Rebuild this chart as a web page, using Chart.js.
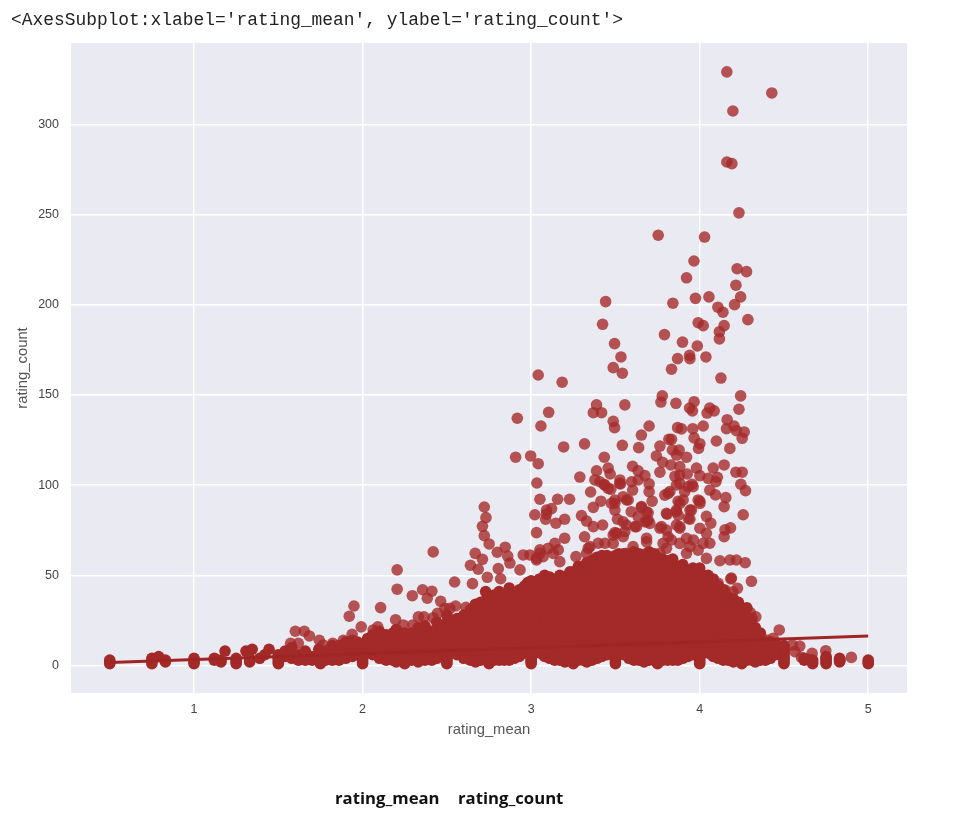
<!DOCTYPE html>
<html>
<head>
<meta charset="utf-8">
<title>rating_mean vs rating_count</title>
<script src="https://cdn.jsdelivr.net/npm/chart.js@4/dist/chart.umd.js"></script>
<style>
  body { margin: 0; background: #fff; width: 960px; height: 817px; overflow: hidden; position: relative; }
  #grafico { position: absolute; left: 0; top: 0; filter: blur(0.4px); }
  #repr { position: absolute; left: 11px; top: 10px; font: 17.9px "Liberation Mono", monospace; color: #222; white-space: pre; }
  .colonna { position: absolute; top: 786px; font: bold 16.7px "Open Sans", sans-serif; color: #111; }
</style>
</head>
<body>
<canvas id="grafico" width="960" height="817"></canvas>
<div id="repr">&lt;AxesSubplot:xlabel='rating_mean', ylabel='rating_count'&gt;</div>
<div class="colonna" style="left:335px">rating_mean</div>
<div class="colonna" style="left:458px">rating_count</div>

<script>
const xTicks = [1, 2, 3, 4, 5];
const yTicks = [0, 50, 100, 150, 200, 250, 300];

// retta di regressione
const fitMeans = [0.5, 5];
const fitCounts = [1.6, 16.3];

// punti isolati, parte alta
const topMeans = [4.161, 4.428, 4.197, 4.161, 4.191, 4.233, 3.754, 4.029, 3.966, 3.922, 4.222, 4.278, 4.215, 4.243, 4.055, 3.975, 3.841, 3.442, 4.207, 4.108, 4.138, 4.286, 3.424, 3.991, 4.021, 4.145, 4.117, 4.117, 3.791, 3.898, 3.986, 3.495,
  3.533, 3.487, 3.541, 3.869, 3.940, 3.942, 4.037, 3.833, 4.126, 3.042, 3.184, 4.243, 3.778, 3.770, 3.859, 3.967, 3.556, 3.388, 3.369, 3.418, 3.104, 3.940, 3.957, 4.233, 4.060, 4.044, 4.086,
  2.918, 3.058, 3.487, 3.495, 3.700, 4.163, 4.159, 4.204, 4.218, 4.264, 4.252, 3.869, 3.892, 3.959, 4.021, 3.654, 3.967, 4.001, 3.993, 4.099, 4.179, 3.817, 3.833, 3.193, 3.317, 3.541, 3.638, 3.764, 3.838, 3.878];
const topCounts = [329.2, 317.5, 307.5, 279.2, 278.3, 251, 238.6, 237.6, 224.3, 215, 220, 218.4, 210.9, 204.4, 204.4, 203.6, 200.9, 201.8, 200.1, 198.7, 195.9, 191.8, 189.2, 190.1, 188.5, 188.5, 185.1, 181.1, 183.5, 179.3, 177.2, 178.5,
  171.1, 165.2, 162.1, 170.2, 172, 170.2, 171.1, 164.3, 159.4, 161.1, 157.1, 149.5, 149.5, 146.1, 145.4, 146.3, 144.5, 144.5, 140.2, 140.2, 140.4, 142.8, 141.2, 142.1, 142.8, 140, 141.2,
  137.1, 132.8, 135.4, 131.9, 132.8, 136.3, 131.3, 132.8, 130.2, 129.5, 126, 131.9, 131.2, 131.3, 132.8, 127.8, 126.2, 123, 120.4, 124.5, 120.4, 125.4, 125.4, 121.2, 122.9, 122.1, 120.8, 121.7, 119.5, 119.5];

// punti isolati, fascia media
const midMeans = [3.743, 3.862, 3.922, 2.908, 2.997, 3.042, 3.434, 3.780, 3.829, 3.882, 3.981, 4.080, 4.145, 3.602, 3.388, 3.457, 3.469, 3.635, 3.675, 3.764, 3.853, 3.926, 4.001, 4.215, 4.252, 3.289, 3.378, 3.527, 3.635, 4.050, 4.105,
  3.034, 3.434, 3.530, 3.700, 3.882, 3.955, 4.096, 4.244, 4.272, 3.473, 3.353, 3.602, 3.700, 4.060, 4.094, 3.813, 3.911, 3.052, 3.157, 3.228, 4.155, 4.001, 3.414, 3.497, 3.576, 3.718, 3.872, 3.369, 4.145, 3.121, 3.091, 3.594, 3.862, 3.951, 3.497, 3.654,
  3.022, 3.299, 4.258, 3.091, 3.807, 3.694, 4.040, 3.086, 3.199, 3.329, 3.147, 3.512, 3.694, 3.942, 4.066, 3.369, 3.424, 4.183, 4.150, 4.145, 3.032, 3.199, 3.317,
  2.953, 2.993, 3.032, 3.052, 3.101, 3.141, 3.161, 3.071, 3.266, 3.349, 3.398, 3.438, 3.497, 3.556, 3.616, 3.685, 3.685, 3.764, 3.813, 3.882, 4.001, 4.060, 3.963, 4.120, 4.179, 4.218, 4.270, 4.188, 4.307];
const midCounts = [116.2, 116.7, 115.5, 115.5, 116.2, 111.9, 115.5, 112.7, 111.2, 110.3, 109.5, 109.5, 111.2, 110.5, 107.9, 109.5, 106.2, 107.9, 105.3, 107.2, 104.9, 106.2, 105.3, 107.2, 107.2, 104.5, 102.9, 102.9, 102.9, 103.8, 104.4,
  101.2, 100.3, 100.7, 100.7, 101, 100.5, 101.9, 100.5, 97, 97.7, 96.2, 97.3, 96.4, 97.3, 94.6, 95.5, 96.4, 92.2, 92.2, 92.2, 93.1, 91.1, 91.1, 90, 91.8, 91.1, 91.1, 87.7, 88.1, 87, 86.2, 85.3, 85.3, 86.2, 86.2, 87.7,
  83.6, 83.1, 83.6, 83.9, 83.9, 84.7, 82.7, 81.1, 81.1, 80.1, 78.9, 81.1, 80.7, 81.1, 78.9, 77, 77.9, 76.3, 75.2, 71.4, 73.7, 70.6, 71.4,
  61.3, 61.3, 59.5, 64.1, 65, 67.8, 64.1, 60.4, 60.4, 65.9, 67.8, 67.8, 73.7, 74.2, 77, 79.8, 70.6, 76.1, 71.4, 76.1, 76.1, 67.8, 69.6, 58.1, 58.5, 58.5, 57, 48.5, 46.7];

// altri punti della fascia media, sopra la massa compatta
const fringeMeans = [3.408, 3.437, 3.457, 3.526, 3.596, 3.793, 3.823, 3.882, 3.862, 3.932, 3.961, 3.902, 3.882, 3.991, 4.001, 3.862, 3.872, 3.803, 3.942, 3.932, 3.497, 3.477, 3.566, 3.546, 3.655, 3.685, 3.635, 3.675, 3.704, 3.625, 3.566, 3.546, 3.507, 3.487, 3.546, 3.685, 3.773, 3.803, 3.862, 3.882, 4.040, 3.833, 3.783, 3.922, 3.882, 3.942, 4.021, 3.991, 4.040, 3.922, 3.803, 3.764, 3.685, 3.605, 3.566, 3.487, 3.339, 3.329, 3.170, 3.131, 3.052, 3.032, 3.250, 3.368];
const fringeCounts = [101.9, 100.1, 98.2, 101, 101.9, 94.5, 96.4, 105.6, 100.1, 99.2, 99.2, 91.8, 89.9, 91.8, 89.9, 86.2, 83.4, 84.4, 86.2, 81.6, 91.8, 89.9, 91.8, 93.6, 88.1, 85.3, 82.5, 79.7, 78.8, 77, 77.9, 79.7, 73.3, 72.3, 71.4, 68.6, 77, 75.1, 77.9, 77, 73.3, 69.6, 67.7, 70.5, 67.7, 65.9, 67.7, 64, 59.4, 62.2, 65, 62.2, 62.2, 65.9, 62.2, 67.7, 65, 62.2, 57.6, 62.2, 62.2, 58.5, 52, 58.5];

// punti isolati, parte sinistra e bordo destro
const sideMeans = [2.722, 2.732, 2.711, 2.722, 2.751, 2.846, 2.799, 2.861, 2.874, 2.668, 2.711, 2.640, 2.686, 2.805, 2.740, 2.819, 2.652, 2.546, 2.934, 2.419, 2.205, 2.205, 2.295, 2.356, 2.411, 2.384, 2.463, 1.949, 1.921, 2.107, 2.196, 1.992, 2.090, 2.063, 1.938, 1.601, 1.654, 1.684, 1.573, 1.619, 1.743, 1.823, 1.766, 1.886, 2.242, 2.298, 2.331, 2.364, 2.419, 2.445, 2.488, 2.518, 2.552, 2.613, 2.686, 2.735, 2.657, 2.775,
  4.185, 4.11, 4.15, 4.224, 4.197, 4.247, 4.3, 4.333, 4.288, 4.218, 4.322, 4.472, 4.396, 4.436, 4.456, 4.55, 4.594, 4.565, 4.604, 4.644, 4.667, 4.748, 4.833, 4.9];
const sideCounts = [87.9, 82, 77.2, 72, 67.4, 65.6, 62.8, 60.7, 56.8, 62.2, 58.9, 55.6, 53.4, 53.7, 48.9, 48.1, 45.4, 46.3, 53, 63, 53, 42.3, 38.7, 42, 41.2, 37.3, 35.6, 33, 27.3, 32.1, 25.4, 21.4, 21.4, 19.7, 17.3, 19, 19, 16.4, 12.3, 12.3, 14, 12.3, 11.4, 14, 22.5, 22.5, 27, 27, 26.5, 29, 31.7, 31.7, 33, 32.3, 33.9, 36.3, 29.8, 29,
  48, 45.6, 41.9, 42.8, 40.9, 30.4, 29.3, 27, 25.2, 23.6, 17.5, 19.7, 14.1, 15.1, 11.9, 11.4, 10.8, 7.7, 4.5, 3.4, 6.7, 8.2, 3, 4.5];

// colonne compatte: per ogni rating_mean i rating_count letti a occhio
const massMeans = [0.5, 0.75, 0.79, 0.83, 1, 1.12, 1.16, 1.184, 1.25, 1.308, 1.33, 1.345, 1.39, 1.42, 1.445, 1.5,
  1.54, 1.58, 1.62, 1.66, 1.7, 1.74, 1.75, 1.78, 1.82, 1.86, 1.9, 1.94, 1.97, 2,
  2.03, 2.06, 2.1, 2.14, 2.18, 2.2, 2.22, 2.25, 2.29, 2.33, 2.37, 2.41, 2.44, 2.47, 2.5,
  2.53, 2.56, 2.6, 2.64, 2.67, 2.7, 2.73, 2.75, 2.78, 2.81, 2.84, 2.87, 2.9, 2.93, 2.96, 2.98, 3,
  3.02, 3.05, 3.08, 3.11, 3.14, 3.17, 3.2, 3.23, 3.25, 3.28, 3.31, 3.33, 3.36, 3.39, 3.42, 3.45, 3.48, 3.5,
  3.52, 3.55, 3.58, 3.61, 3.64, 3.67, 3.7, 3.73, 3.75, 3.78, 3.81, 3.84, 3.87, 3.9, 3.93, 3.96, 3.98, 4,
  4.02, 4.05, 4.08, 4.11, 4.14, 4.17, 4.2, 4.23, 4.25, 4.28, 4.31, 4.33, 4.36, 4.39, 4.42, 4.45, 4.5, 4.62, 4.67, 4.75, 4.83, 5];
const massCounts = [[1, 2, 3], [1, 2, 3, 4], [5], [2, 3], [1, 2, 3, 4], [3, 4], [2, 3], [8], [1, 2, 3, 4], [8], [2, 3, 4], [9], [4], [6], [9], [1, 2, 3, 4, 5, 6],
  [5, 8], [4, 7, 10], [3, 6], [3, 5, 8], [3, 5], [3, 6, 9], [1, 2, 3, 4, 5], [3, 5, 8], [3, 5, 8, 11], [3, 5, 8, 11], [4, 7, 10, 13], [5, 8, 11, 14], [7, 10, 13], [1, 2, 3, 4, 5, 6, 7, 8],
  [9, 12, 15], [6, 9, 13, 17], [4, 7, 11, 15, 19], [3, 6, 10, 14, 17], [3, 6, 10, 13, 18], [2, 3, 5, 8, 11, 15, 20], [3, 6, 9, 13, 17], [1, 2, 3, 4, 7, 10, 14, 18], [3, 6, 10, 14, 18], [2, 3, 5, 9, 13, 17, 21], [3, 6, 10, 14, 18, 22], [3, 7, 11, 15, 19], [4, 8, 12, 16, 20, 24], [7, 10, 14, 18, 22], [1, 2, 3, 4, 5, 6, 7, 8, 9, 12, 16, 20, 24, 28],
  [9, 13, 17, 21, 25], [6, 10, 14, 18, 22, 26], [4, 8, 12, 16, 20, 24, 28], [3, 7, 11, 15, 19, 23, 27, 31], [2, 3, 6, 10, 14, 18, 22, 26, 30, 34], [3, 7, 11, 15, 19, 23, 27, 31, 35], [4, 8, 12, 16, 20, 24, 28, 32, 36, 41], [1, 2, 3, 4, 8, 12, 16, 20, 24, 28, 33, 38], [3, 7, 11, 15, 19, 23, 27, 31, 35, 39], [3, 7, 11, 15, 19, 23, 27, 31, 36, 41], [3, 6, 10, 14, 18, 22, 26, 30, 34, 38], [3, 7, 11, 15, 19, 23, 27, 31, 35, 39, 43], [4, 8, 12, 16, 20, 24, 28, 32, 36, 40], [5, 9, 13, 17, 21, 25, 29, 33, 37, 42], [7, 11, 15, 19, 23, 27, 31, 35, 39, 44], [9, 13, 17, 21, 25, 29, 33, 37, 41, 46], [1, 2, 3, 4, 5, 6, 7, 8, 9, 10, 14, 18, 22, 26, 30, 34, 38, 42, 47],
  [10, 14, 18, 22, 26, 30, 34, 38, 42, 46], [7, 11, 15, 19, 23, 27, 31, 35, 39, 43, 48], [5, 9, 13, 17, 21, 25, 29, 33, 37, 41, 45, 50], [4, 8, 12, 16, 20, 24, 28, 32, 36, 40, 44, 49], [3, 7, 11, 15, 19, 23, 27, 31, 35, 39, 43, 47], [3, 6, 10, 14, 18, 22, 26, 30, 34, 38, 42, 46, 50], [2, 3, 5, 9, 13, 17, 21, 25, 29, 33, 37, 41, 45, 49], [3, 7, 11, 15, 19, 23, 27, 31, 35, 39, 43, 47, 52], [1, 2, 3, 4, 6, 10, 14, 18, 22, 26, 30, 34, 38, 42, 46, 50], [3, 7, 11, 15, 19, 23, 27, 31, 35, 39, 43, 47, 51, 55], [3, 6, 10, 14, 18, 22, 26, 30, 34, 38, 42, 46, 50, 54], [2, 3, 5, 9, 13, 17, 21, 25, 29, 33, 37, 41, 45, 49, 53, 57], [3, 7, 11, 15, 19, 23, 27, 31, 35, 39, 43, 47, 51, 55, 58], [4, 8, 12, 16, 20, 24, 28, 32, 36, 40, 44, 48, 52, 56, 60], [5, 9, 13, 17, 21, 25, 29, 33, 37, 41, 45, 49, 53, 57, 61], [6, 10, 14, 18, 22, 26, 30, 34, 38, 42, 46, 50, 54, 58, 61], [9, 13, 17, 21, 25, 29, 33, 37, 41, 45, 49, 53, 57, 60], [1, 2, 3, 4, 5, 6, 7, 8, 9, 10, 14, 18, 22, 26, 30, 34, 38, 42, 46, 50, 54, 58, 61],
  [10, 14, 18, 22, 26, 30, 34, 38, 42, 46, 50, 54, 58, 62], [6, 10, 14, 18, 22, 26, 30, 34, 38, 42, 46, 50, 54, 58, 62], [4, 8, 12, 16, 20, 24, 28, 32, 36, 40, 44, 48, 52, 56, 60], [3, 7, 11, 15, 19, 23, 27, 31, 35, 39, 43, 47, 51, 55, 59, 63], [3, 6, 10, 14, 18, 22, 26, 30, 34, 38, 42, 46, 50, 54, 58, 62], [2, 3, 5, 9, 13, 17, 21, 25, 29, 33, 37, 41, 45, 49, 53, 57, 60], [3, 7, 11, 15, 19, 23, 27, 31, 35, 39, 43, 47, 51, 55, 59, 63], [3, 7, 11, 15, 19, 23, 27, 31, 35, 39, 43, 47, 51, 55, 59, 62], [1, 2, 3, 4, 7, 11, 15, 19, 23, 27, 31, 35, 39, 43, 47, 51, 55, 60], [3, 7, 11, 15, 19, 23, 27, 31, 35, 39, 43, 47, 51, 55, 59], [3, 6, 10, 14, 18, 22, 26, 30, 34, 38, 42, 46, 50, 54, 58], [3, 7, 11, 15, 19, 23, 27, 31, 35, 39, 43, 47, 51, 55, 59], [3, 7, 11, 15, 19, 23, 27, 31, 35, 39, 43, 47, 51, 55], [4, 8, 12, 16, 20, 24, 28, 32, 36, 40, 44, 48, 52, 56], [5, 9, 13, 17, 21, 25, 29, 33, 37, 41, 45, 49, 53], [6, 10, 14, 18, 22, 26, 30, 34, 38, 42, 46, 50, 54], [9, 13, 17, 21, 25, 29, 33, 37, 41, 45, 49, 53], [1, 2, 3, 4, 5, 6, 7, 8, 9, 10, 14, 18, 22, 26, 30, 34, 38, 42, 46, 50, 54],
  [10, 14, 18, 22, 26, 30, 34, 38, 42, 46, 50], [7, 11, 15, 19, 23, 27, 31, 35, 39, 43, 47, 50], [5, 9, 13, 17, 21, 25, 29, 33, 37, 41, 45, 48], [4, 8, 12, 16, 20, 24, 28, 32, 36, 40, 44], [3, 7, 11, 15, 19, 23, 27, 31, 35, 39, 42], [3, 6, 10, 14, 18, 22, 26, 30, 34, 38], [2, 3, 5, 9, 13, 17, 21, 25, 29, 33, 37], [3, 7, 11, 15, 19, 23, 27, 31, 35], [1, 2, 3, 4, 7, 11, 15, 19, 23, 27], [3, 7, 11, 15, 19, 23, 27, 32], [3, 6, 10, 14, 18, 22, 26], [2, 3, 5, 9, 13, 17, 21], [3, 6, 10, 14, 18], [3, 6, 10, 13], [4, 7, 10, 13], [6, 9, 12], [1, 2, 3, 4, 5, 6, 7, 8, 9, 10, 11], [3, 4], [1, 2, 3], [1, 2, 3, 4, 5], [2, 3, 4], [1, 2, 3]];

const puntoColor = "rgba(165,42,42,0.8)";
const massaColor = "rgb(163,42,40)";

const puntiIsolati = [
  ...topMeans.map((m, i) => ({ x: m, y: topCounts[i] })),
  ...midMeans.map((m, i) => ({ x: m, y: midCounts[i] })),
  ...fringeMeans.map((m, i) => ({ x: m, y: fringeCounts[i] })),
  ...sideMeans.map((m, i) => ({ x: m, y: sideCounts[i] }))
];
const puntiMassa = massMeans.flatMap((m, i) => massCounts[i].map(c => ({ x: m, y: c })));
const rettaFit = fitMeans.map((m, i) => ({ x: m, y: fitCounts[i] }));

// sfondo grigio dell'area del grafico, stile seaborn
const sfondoArea = {
  id: "sfondoArea",
  beforeDraw(chart) {
    const { ctx, chartArea: a } = chart;
    ctx.save();
    ctx.fillStyle = "#EAEAF2";
    ctx.fillRect(a.left, a.top, a.right - a.left, a.bottom - a.top);
    ctx.restore();
  }
};

const ctx = document.getElementById("grafico").getContext("2d");
new Chart(ctx, {
  type: "scatter",
  data: {
    datasets: [
      { type: "line", data: rettaFit, borderColor: "#9e2524", borderWidth: 3, pointRadius: 0, order: 0 },
      { data: puntiMassa, backgroundColor: massaColor, borderWidth: 0, pointRadius: 5.8, order: 1 },
      { data: puntiIsolati, backgroundColor: puntoColor, borderWidth: 0, pointRadius: 5.8, order: 2 }
    ]
  },
  options: {
    responsive: false,
    animation: false,
    layout: { padding: { top: 43, right: 53, bottom: 78, left: 14 } },
    plugins: { legend: { display: false }, tooltip: { enabled: false } },
    scales: {
      x: {
        type: "linear",
        min: 0.27,
        max: 5.23,
        afterBuildTicks: s => { s.ticks = xTicks.map(v => ({ value: v })); },
        afterFit: s => { s.height = 46; },
        border: { display: false },
        grid: { color: "#fff", lineWidth: 1.5, drawTicks: false },
        ticks: { color: "#444", padding: 9, maxRotation: 0, font: { family: "Liberation Sans", size: 12.5 } },
        title: { display: true, text: "rating_mean", color: "#555", padding: 0, font: { family: "Liberation Sans", size: 14.8 } }
      },
      y: {
        type: "linear",
        min: -15.25,
        max: 345.2,
        afterBuildTicks: s => { s.ticks = yTicks.map(v => ({ value: v })); },
        afterFit: s => { s.width = 57; },
        border: { display: false },
        grid: { color: "#fff", lineWidth: 1.5, drawTicks: false },
        ticks: { color: "#444", padding: 12, font: { family: "Liberation Sans", size: 12.5 } },
        title: { display: true, text: "rating_count", color: "#555", padding: 0, font: { family: "Liberation Sans", size: 14.8 } }
      }
    }
  },
  plugins: [sfondoArea]
});
</script>
</body>
</html>
